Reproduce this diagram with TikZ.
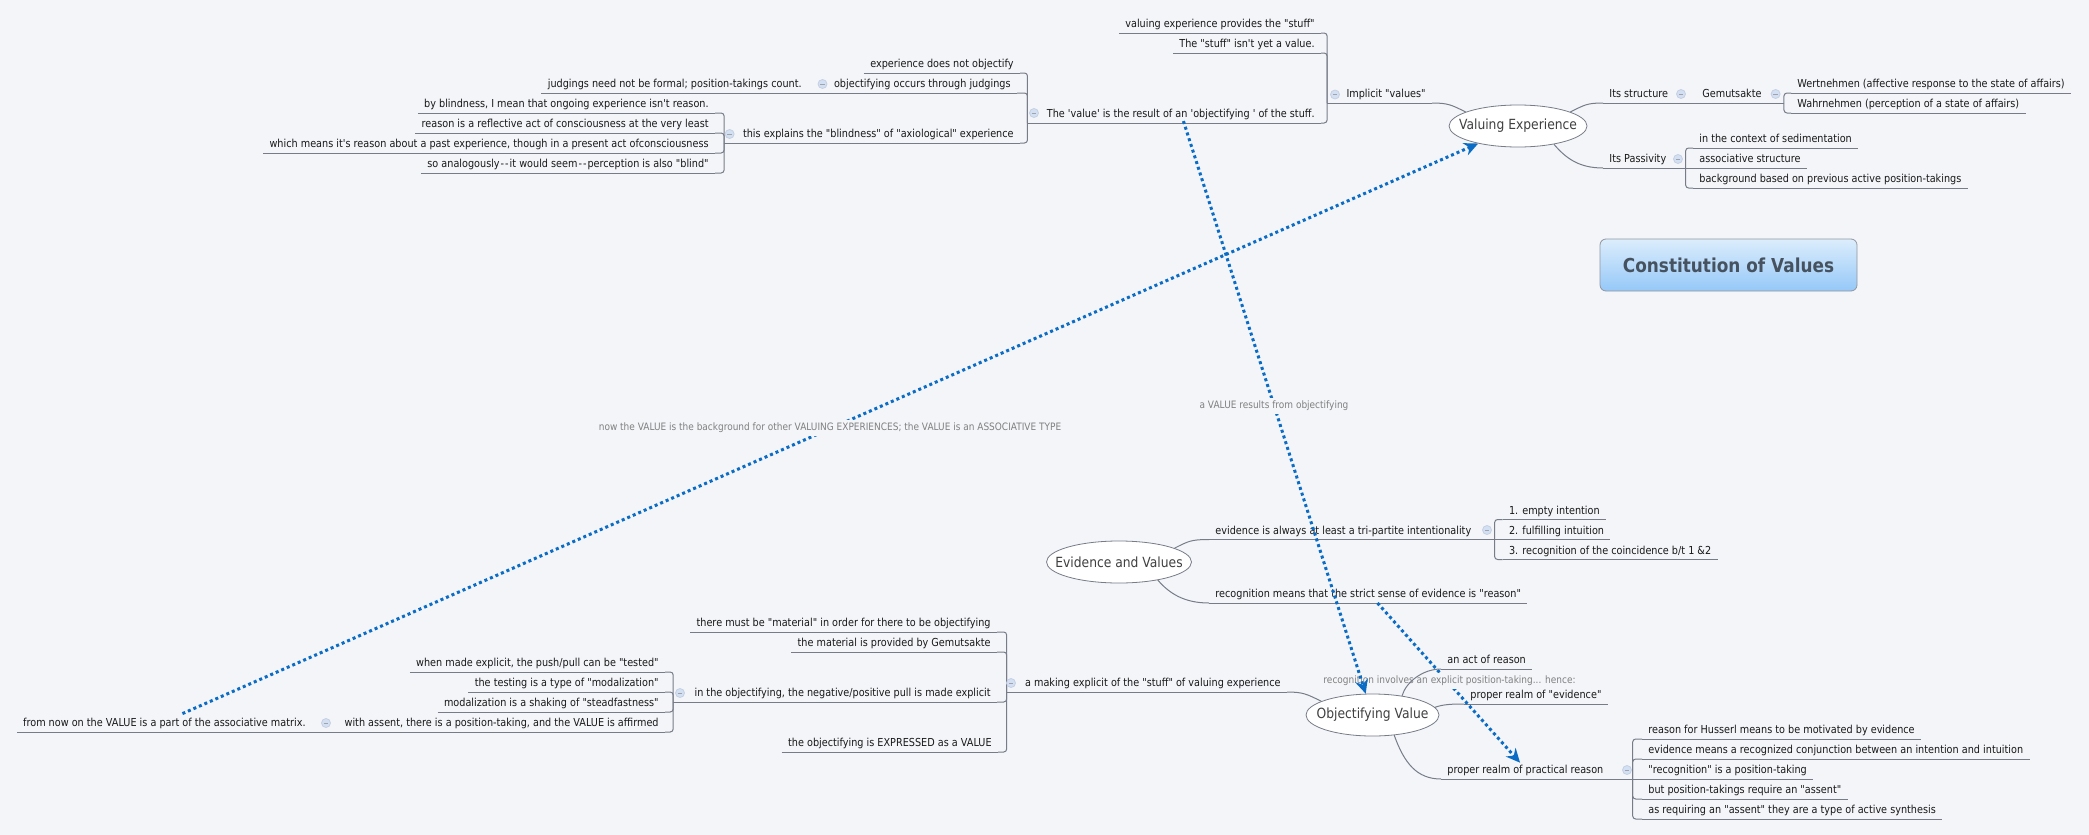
\documentclass[tikz,border=0pt]{standalone}
\usepackage{fontspec}
\setmainfont[FakeStretch=0.88,Ligatures=TeXOff]{DejaVu Sans}
\usetikzlibrary{shapes.geometric,arrows.meta}
\definecolor{pagebg}{HTML}{F3F5F9}
\definecolor{linegray}{HTML}{777C88}
\definecolor{relblue}{HTML}{0A6CC4}
\definecolor{markblue}{HTML}{D3DFF2}
\definecolor{titletop}{HTML}{DCEDFC}
\definecolor{titlebot}{HTML}{95C8F8}
\definecolor{titletext}{HTML}{46525F}
\tikzset{
  branch/.style={draw=linegray,line width=0.5pt},
  bracket/.style={branch,rounded corners=1.5pt},
  topic/.style={inner xsep=3pt,inner ysep=0pt,text height=7.5pt,text depth=2.5pt,
    font=\fontsize{5.5}{6}\selectfont,text=black!90,
    append after command={(\tikzlastnode.south west) edge[branch] (\tikzlastnode.south east)}},
  topicL/.style={topic,anchor=south east},
  topicR/.style={topic,anchor=south west},
  central/.style={ellipse,draw=linegray,fill=white,inner xsep=-8pt,inner ysep=0pt,minimum height=21pt,
    font=\fontsize{7}{8}\selectfont,text=black!75},
  minusmark/.style={circle,draw=markblue!85!linegray,fill=markblue,minimum size=4.5pt,inner sep=0pt,
    path picture={\draw[linegray!70,line width=0.3pt] ([xshift=-1.1pt]path picture bounding box.center) -- ([xshift=1.1pt]path picture bounding box.center);}},
  relation/.style={draw=relblue,line width=1.5pt,dash pattern=on 1.5pt off 1.5pt,-{Stealth[length=7pt,width=6.5pt]}},
  rellabel/.style={fill=pagebg,inner xsep=1pt,inner ysep=1.5pt,text=black!50,font=\fontsize{5.1}{6}\selectfont}
}
\begin{document}
\begin{tikzpicture}[x=0.5pt,y=-0.5pt]
\path[fill=pagebg,use as bounding box] (0,0) rectangle (2089,835);

\node[central,minimum width=69pt] (valuing) at (1518,126) {Valuing Experience};
\node[central,minimum width=72.5pt] (evidence) at (1119,562) {Evidence and Values};
\node[central,minimum width=66.5pt] (objectifying) at (1372.5,715) {Objectifying Value};

\node[rounded corners=3pt,draw=linegray!80,top color=titletop,bottom color=titlebot,
  minimum width=128.5pt,minimum height=26pt,inner sep=0pt,text=titletext,
  font=\fontsize{9.6}{12}\bfseries] (title) at (1728.5,265) {Constitution of Values};

\node[topicL] (implicit) at (1432,103) {Implicit "values"};
\node[topicL] (stuffA) at (1321,33) {valuing experience provides the "stuff"};
\node[topicL] (stuffB) at (1321,53) {The "stuff" isn't yet a value.};
\node[topicL] (theValue) at (1321,123) {The 'value' is the result of an 'objectifying ' of the stuff.};
\node[topicL] (noObject) at (1020,73) {experience does not objectify};
\node[topicL] (throughJudg) at (1017,93) {objectifying occurs through judgings};
\node[topicL] (judgings) at (808,93) {judgings need not be formal; position-takings count.};
\node[topicL] (blindness) at (1020,143) {this explains the "blindness" of "axiological" experience};
\node[topicL] (byBlind) at (715,113) {by blindness, I mean that ongoing experience isn't reason.};
\node[topicL] (reflective) at (715,133) {reason is a reflective act of consciousness at the very least};
\node[topicL] (pastExp) at (715,153) {which means it's reason about a past experience, though in a present act ofconsciousness};
\node[topicL] (analog) at (715,173) {so analogously\kern.5pt-\kern.5pt-\kern.5pt it would seem\kern.5pt-\kern.5pt-\kern.5pt perception is also "blind"};

\node[topicR] (structure) at (1603,103) {Its structure};
\node[topicR] (gemut) at (1696,103) {Gemutsakte};
\node[topicR] (wert) at (1791,93) {Wertnehmen (affective response to the state of affairs)};
\node[topicR] (wahr) at (1791,113) {Wahrnehmen (perception of a state of affairs)};
\node[topicR] (passivity) at (1603,168) {Its Passivity};
\node[topicR] (sediment) at (1693,148) {in the context of sedimentation};
\node[topicR] (assoc) at (1693,168) {associative structure};
\node[topicR] (background) at (1693,188) {background based on previous active position-takings};

\node[topicR] (tripartite) at (1209,539.5) {evidence is always at least a tri-partite intentionality};
\node[topicR] (emptyInt) at (1502.6,519.5) {1. empty intention};
\node[topicR] (fulfilling) at (1502.6,539.5) {2. fulfilling intuition};
\node[topicR] (coincidence) at (1502.6,559.5) {3. recognition of the coincidence b/t 1 \&2};
\node[topicR] (strict) at (1209,603) {recognition means that the strict sense of evidence is "reason"};

\node[topicL] (making) at (1287,692) {a making explicit of the "stuff" of valuing experience};
\node[topicL] (material) at (997,632) {there must be "material" in order for there to be objectifying};
\node[topicL] (provided) at (997,652) {the material is provided by Gemutsakte};
\node[topicL] (pull) at (997,702) {in the objectifying, the negative/positive pull is made explicit};
\node[topicL] (expressed) at (998,752) {the objectifying is EXPRESSED as a VALUE};
\node[topicL] (tested) at (665,672) {when made explicit, the push/pull can be "tested"};
\node[topicL] (testing) at (665,692) {the testing is a type of "modalization"};
\node[topicL] (shaking) at (665,712) {modalization is a shaking of "steadfastness"};
\node[topicL] (assent) at (665,732) {with assent, there is a position-taking, and the VALUE is affirmed};
\node[topicL] (fromNow) at (312,732) {from now on the VALUE is a part of the associative matrix.};

\node[topicR] (actReason) at (1441,669) {an act of reason};
\node[topicR] (realmEv) at (1464,704) {proper realm of "evidence"};
\node[topicR] (practical) at (1441,779) {proper realm of practical reason};
\node[topicR] (husserl) at (1642,739) {reason for Husserl means to be motivated by evidence};
\node[topicR] (conjunction) at (1642,759) {evidence means a recognized conjunction between an intention and intuition};
\node[topicR] (posTaking) at (1642,779) {"recognition" is a position-taking};
\node[topicR] (reqAssent) at (1642,799) {but position-takings require an "assent"};
\node[topicR] (synthesis) at (1642,819) {as requiring an "assent" they are a type of active synthesis};

\draw[branch] (valuing.165) .. controls +(-14,-7) and +(16,0) .. (implicit.south east);
\draw[branch] (valuing.15) .. controls +(14,-7) and +(-16,0) .. (structure.south west);
\draw[branch] (valuing.-27) .. controls +(12,14) and +(-24,0) .. (passivity.south west);
\draw[branch] (evidence.14) .. controls +(14,-7) and +(-18,0) .. (tripartite.south west);
\draw[branch] (evidence.-25) .. controls +(12,14) and +(-24,0) .. (strict.south west);
\draw[branch] (objectifying.165) .. controls +(-14,-7) and +(16,0) .. (making.south east);
\draw[branch] (objectifying.7) .. controls +(8,-3) and +(-12,0) .. (realmEv.south west);
\draw[branch] (objectifying.-43) .. controls +(10,28) and +(-24,0) .. (practical.south west);

\draw[branch] (implicit.south west) -- ++(-13,0) coordinate (bImplicit);
\draw[bracket] (bImplicit) |- (stuffA.south east);
\draw[bracket] (bImplicit) |- (stuffB.south east);
\draw[bracket] (bImplicit) |- (theValue.south east);
\draw[branch] (theValue.south west) -- ++(-13,0) coordinate (bValue);
\draw[bracket] (bValue) |- (noObject.south east);
\draw[bracket] (bValue) |- (throughJudg.south east);
\draw[bracket] (bValue) |- (blindness.south east);
\draw[branch] (throughJudg.south west) -- (judgings.south east);
\draw[branch] (blindness.south west) -- ++(-12.5,0) coordinate (bBlind);
\draw[bracket] (bBlind) |- (byBlind.south east);
\draw[bracket] (bBlind) |- (reflective.south east);
\draw[bracket] (bBlind) |- (pastExp.south east);
\draw[bracket] (bBlind) |- (analog.south east);

\draw[branch] (structure.south east) -- (gemut.south west);
\draw[branch] (gemut.south east) -- ++(16,0) coordinate (bGemut);
\draw[bracket] (bGemut) |- (wert.south west);
\draw[bracket] (bGemut) |- (wahr.south west);
\draw[branch] (passivity.south east) -- ++(13,0) coordinate (bPassive);
\draw[bracket] (bPassive) |- (sediment.south west);
\draw[branch] (bPassive) -- (assoc.south west);
\draw[bracket] (bPassive) |- (background.south west);

\draw[branch] (tripartite.south east) -- ++(17,0) coordinate (bTri);
\draw[bracket] (bTri) |- (emptyInt.south west);
\draw[branch] (bTri) -- (fulfilling.south west);
\draw[bracket] (bTri) |- (coincidence.south west);

\draw[branch] (making.south west) -- ++(-12,0) coordinate (bMaking);
\draw[bracket] (bMaking) |- (material.south east);
\draw[bracket] (bMaking) |- (provided.south east);
\draw[bracket] (bMaking) |- (pull.south east);
\draw[bracket] (bMaking) |- (expressed.south east);
\draw[branch] (pull.south west) -- ++(-15,0) coordinate (bPull);
\draw[bracket] (bPull) |- (tested.south east);
\draw[bracket] (bPull) |- (testing.south east);
\draw[bracket] (bPull) |- (shaking.south east);
\draw[bracket] (bPull) |- (assent.south east);
\draw[branch] (assent.south west) -- (fromNow.south east);

\draw[branch] (practical.south east) -- ++(23,0) coordinate (bPractical);
\draw[bracket] (bPractical) |- (husserl.south west);
\draw[bracket] (bPractical) |- (conjunction.south west);
\draw[branch] (bPractical) -- (posTaking.south west);
\draw[bracket] (bPractical) |- (reqAssent.south west);
\draw[bracket] (bPractical) |- (synthesis.south west);

\node[minusmark] (mImplicit) at (1335,94.5) {};
\node[minusmark] (mValue) at (1034,113) {};
\node[minusmark] (mJudg) at (822.5,84) {};
\node[minusmark] (mBlind) at (729.6,134) {};
\node[minusmark] (mStructure) at (1681,94) {};
\node[minusmark] (mGemut) at (1775.6,94) {};
\node[minusmark] (mPassive) at (1678,159) {};
\node[minusmark] (mTri) at (1487,530) {};
\node[minusmark] (mMaking) at (1011,683) {};
\node[minusmark] (mPull) at (680,693) {};
\node[minusmark] (mAssent) at (326,723) {};
\node[minusmark] (mPractical) at (1627,770) {};

\draw[relation,shorten >=-3pt] (strict) -- (practical);
\node[rellabel] (lblRecog) at (1449.5,681) {recognition involves an explicit position-taking... hence:};
\draw[branch] (objectifying.33) .. controls +(4,-14) and +(-18,0) .. (actReason.south west);
\draw[relation,shorten <=-1pt] (theValue) -- (objectifying);
\node[rellabel] (lblResult) at (1274,405.6) {a VALUE results from objectifying};
\draw[relation,shorten <=-3pt] (fromNow) -- (valuing);
\node[rellabel] (lblBackground) at (830,428) {now the VALUE is the background for other VALUING EXPERIENCES; the VALUE is an ASSOCIATIVE TYPE};
\end{tikzpicture}
\end{document}
